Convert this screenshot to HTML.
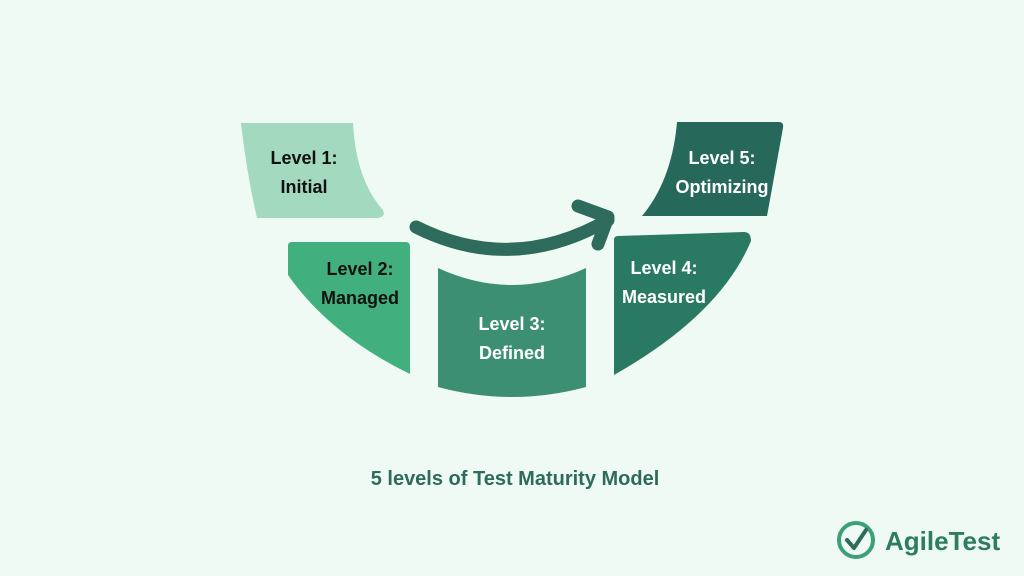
<!DOCTYPE html>
<html><head><style>
body{margin:0;width:1024px;height:576px;background:#effaf4;overflow:hidden;font-family:"Liberation Sans",sans-serif}
svg{position:absolute;left:0;top:0}
</style></head><body>
<svg width="1024" height="576" viewBox="0 0 1024 576">
<g stroke-linejoin="round">
<path d="M241,123 L353,123 Q356,180 383,210 Q386,217 378,218 L257,218 Q247,175 241,123Z" fill="#a3d9bf"/>
<path d="M292,242 L406,242 Q410,242 410,247 L410,374 Q330,335 288,275 L288,246 Q288,242 292,242Z" fill="#42b07e"/>
<path d="M438,268 Q512,302 586,268 L586,387 Q512,407 438,387Z" fill="#3d8f74"/>
<path d="M614,243 L614,375 Q720,315 751,241 Q751,232 744,232 L618,236 Q614,236 614,240Z" fill="#2a7a63"/>
<path d="M677,122 L779,122 Q784,122 783,128 L767,216 L642,216 Q672,180 677,122Z" fill="#26695a"/>
</g>
<path d="M416,227 Q512,275 608,220" fill="none" stroke="#2e6b5c" stroke-width="13" stroke-linecap="round"/>
<path d="M578,206 L608,217 L598,244" fill="none" stroke="#2e6b5c" stroke-width="13" stroke-linecap="round" stroke-linejoin="round"/>
<g font-weight="bold" font-size="18" text-anchor="middle">
<text x="304" y="164" fill="#111">Level 1:</text><text x="304" y="193" fill="#111">Initial</text>
<text x="360" y="275" fill="#111">Level 2:</text><text x="360" y="304" fill="#111">Managed</text>
<text x="512" y="330" fill="#fff">Level 3:</text><text x="512" y="359" fill="#fff">Defined</text>
<text x="664" y="274" fill="#fff">Level 4:</text><text x="664" y="303" fill="#fff">Measured</text>
<text x="722" y="164" fill="#fff">Level 5:</text><text x="722" y="193" fill="#fff">Optimizing</text>
</g>
<text x="515" y="485" text-anchor="middle" font-weight="bold" font-size="20" fill="#2e6b5c">5 levels of Test Maturity Model</text>
<circle cx="856" cy="540" r="17" fill="none" stroke="#3d9f77" stroke-width="4"/>
<path d="M847,540 L854,548 L866,530" fill="none" stroke="#2e6b5c" stroke-width="4" stroke-linecap="round" stroke-linejoin="round"/>
<text x="885" y="550" font-weight="bold" font-size="26" fill="#2e7d60">AgileTest</text>
</svg>
</body></html>
